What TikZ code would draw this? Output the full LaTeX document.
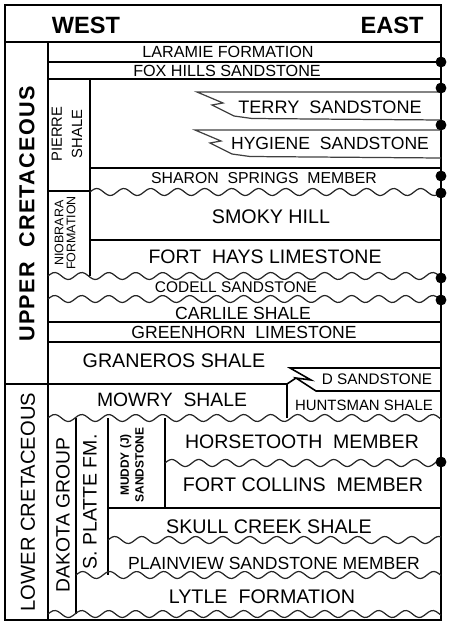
\documentclass[tikz,border=0pt]{standalone}
\usepackage{fontspec}
\setmainfont{Liberation Sans}

\tikzset{
  lbl/.style={font=\fontsize{#1}{#1}\selectfont, inner sep=0pt},
  vlbl/.style 2 args={font=\fontsize{#1}{#2}\selectfont, inner sep=0pt, align=center, rotate=90},
  contact/.style={line width=0.9pt},
  wave/.style={line width=0.7pt, black!85},
  tongue/.style={line width=0.7pt, black!75},
}
\newcommand{\wavy}[3]{\draw[wave] plot[domain=#1:#2, samples=160, smooth] (\x,{#3-3.5*sin((\x-#1)/27*360)});}

\begin{document}
\begin{tikzpicture}[x=0.02cm, y=-0.02cm]
    % define variables.
    \def\xl{5}
    \def\xc{48}
    \def\xr{441}
    \useasboundingbox (0,0) rectangle (450,626);
    % draw the frame
    \draw[line width=1.1pt] (\xl,5) rectangle (\xr,620);
    \draw[contact] (\xl,42) -- (\xr,42);
    \draw[contact] (\xc,42) -- (\xc,620);
    \draw[contact] (\xl,384) -- (287,384);
    % draw the straight contacts
    \draw[contact] (\xc,62) -- (\xr,62);
    \draw[contact] (\xc,79) -- (\xr,79);
    \draw[contact] (90,79) -- (90,276);
    \draw[contact] (\xc,191) -- (90,191);
    \draw[contact] (90,168) -- (\xr,168);
    \draw[contact] (90,240) -- (\xr,240);
    \draw[contact] (\xc,322) -- (\xr,322);
    \draw[contact] (\xc,342) -- (\xr,342);
    \draw[contact] (287,384) -- (287,418);
    \draw[contact] (76,418) -- (76,614);
    \draw[contact] (108,418) -- (108,575);
    \draw[contact] (165,418) -- (165,508);
    \draw[contact] (108,508) -- (\xr,508);
    % draw the unconformities
    \wavy{90}{\xr}{192}
    \wavy{\xc}{\xr}{276}
    \wavy{\xc}{\xr}{299}
    \wavy{\xc}{\xr}{418}
    \wavy{165}{\xr}{463}
    \wavy{108}{\xr}{540}
    \wavy{76}{\xr}{575}
    \wavy{\xc}{\xr}{614}
    % draw the sandstone tongues
    \draw[tongue] (\xr,92) -- (197,92) -- (223,103) -- (212,105) -- (234,116) -- (252,118.5) -- (\xr,120);
    \draw[tongue] (\xr,130) -- (195,130) -- (221,141) -- (210,143) -- (232,154) -- (250,156.5) -- (\xr,158);
    \draw[contact] (\xr,368) -- (290,368) -- (311,380) -- (296,378) -- (316,391) -- (\xr,391);
    \draw[contact] (287,384) -- (296,378);
    % draw the dots
    \foreach \y in {62,88,125,176,193,278,300,462}
        \fill (\xr,\y) circle (3.1pt);
    % draw the labels
    \node[lbl=13.4] (west) at (86,25) {\bfseries WEST};
    \node[lbl=13.4] (east) at (392,25) {\bfseries EAST};
    \node[lbl=9.2] (laramie) at (228,52) {LARAMIE FORMATION};
    \node[lbl=9.2] (foxhills) at (227,71) {FOX HILLS SANDSTONE};
    \node[lbl=10.3] (terry) at (330,107) {TERRY\ \ SANDSTONE};
    \node[lbl=10] (hygiene) at (330,143) {HYGIENE\ \ SANDSTONE};
    \node[lbl=9] (sharon) at (264,178) {SHARON\ \ SPRINGS\ \ MEMBER};
    \node[lbl=11.2] (smoky) at (271,217) {SMOKY HILL};
    \node[lbl=11.1] (forthays) at (265,257) {FORT\ \ HAYS LIMESTONE};
    \node[lbl=8.8] (codell) at (236,287) {CODELL SANDSTONE};
    \node[lbl=10] (carlile) at (243,313) {CARLILE SHALE};
    \node[lbl=10] (greenhorn) at (244,332) {GREENHORN\ \ LIMESTONE};
    \node[lbl=11.2] (graneros) at (174,361) {GRANEROS SHALE};
    \node[lbl=8.7] (dsand) at (377,379) {D SANDSTONE};
    \node[lbl=11] (mowry) at (172,400) {MOWRY\ \ SHALE};
    \node[lbl=8.5] (huntsman) at (364,405) {HUNTSMAN SHALE};
    \node[lbl=11.1] (horsetooth) at (302,442) {HORSETOOTH\ \ MEMBER};
    \node[lbl=11.2] (fortcollins) at (303,485) {FORT COLLINS\ \ MEMBER};
    \node[lbl=11.2] (skull) at (269,527) {SKULL CREEK SHALE};
    \node[lbl=10] (plainview) at (274,563) {PLAINVIEW SANDSTONE MEMBER};
    \node[lbl=11.2] (lytle) at (262,597) {LYTLE\ \ FORMATION};
    % draw the side labels
    \node[vlbl={12.3}{12.3}] (upper) at (27,214) {\bfseries\addfontfeature{LetterSpace=6}UPPER\ \ CRETACEOUS};
    \node[vlbl={11.5}{11.5}] (lower) at (28,502) {LOWER CRETACEOUS};
    \node[vlbl={8.4}{11.4}] (pierre) at (67,134) {PIERRE\\SHALE};
    \node[vlbl={7.1}{6.8}] (niobrara) at (65,233) {NIOBRARA\\FORMATION};
    \node[vlbl={11}{11}] (dakota) at (63,515) {DAKOTA GROUP};
    \node[vlbl={11.1}{11.1}] (platte) at (90,502) {S. PLATTE FM.};
    \node[vlbl={6.8}{8.5}] (muddy) at (132,465) {\bfseries MUDDY (J)\\\bfseries SANDSTONE};
\end{tikzpicture}
\end{document}
